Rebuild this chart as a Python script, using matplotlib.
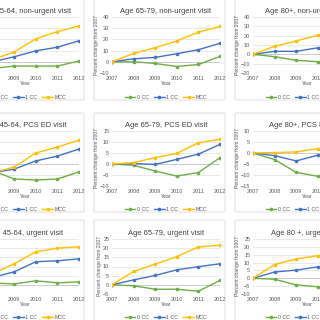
import matplotlib
matplotlib.use('Agg')
import matplotlib.pyplot as plt
from matplotlib.patches import FancyBboxPatch

plt.rcParams['font.family'] = ['Liberation Sans', 'DejaVu Sans']

YEARS = [2007, 2008, 2009, 2010, 2011, 2012]

# row 1: non-urgent visit
nu_young_cc0 = [0, -6, -3.8, -3.8, -3.8, 0.7]
nu_young_cc1 = [0, 0, 4.5, 9.8, 13, 18.8]
nu_young_mcc = [0, 2, 8.8, 20.5, 27, 32]
nu_mid_cc0 = [0, 0, -1.5, -4.2, -2.4, 4.8]
nu_mid_cc1 = [0, 2.7, 3.9, 7.2, 10.8, 16.5]
nu_mid_mcc = [0, 7.5, 12.6, 18.6, 26.5, 31.6]
nu_old_cc0 = [0, -2.5, -6.4, -7.9, -8.5, -5]
nu_old_cc1 = [0, 3.2, 3.2, 7, 10, 14]
nu_old_mcc = [0, 8.6, 14.3, 20.4, 25, 30]

# row 2: PCS ED visit
pcs_young_cc0 = [0, -3, -6.8, -7.3, -6.8, -3.6]
pcs_young_cc1 = [0, -4, -2.3, 1.4, 3.6, 6.8]
pcs_young_mcc = [0, -4, -1.4, 5, 7.7, 10.9]
pcs_mid_cc0 = [0, -0.6, -3.2, -5.5, -3.9, 2.9]
pcs_mid_cc1 = [0, 0.2, -0.2, 2.1, 4.5, 8.9]
pcs_mid_mcc = [0, 0.6, 2.9, 4.8, 9.7, 11.2]
pcs_old_cc0 = [0, -3, -8.8, -10.6, -11, -9]
pcs_old_cc1 = [0, -1.2, -3.6, -1, 1, 3]
pcs_old_mcc = [0, 0.2, 0.5, 2, 3, 5]

# row 3: urgent visit
urg_young_cc0 = [0, 1, 0.5, 2.2, 1.1, 1.6]
urg_young_cc1 = [0, 4, 7.1, 12.6, 13.1, 14.2]
urg_young_mcc = [0, 6, 11.5, 18, 20, 20.8]
urg_mid_cc0 = [0, -0.5, -2.4, -2.4, -3.5, 2.4]
urg_mid_cc1 = [0, 2.7, 5.1, 8.2, 9.9, 11.5]
urg_mid_mcc = [0, 7.3, 11.3, 15.4, 20.7, 21.6]
urg_old_cc0 = [0, -0.6, -4.2, -5.4, -5, -3]
urg_old_cc1 = [0, 4, 5.2, 7.3, 8, 9]
urg_old_mcc = [0, 8.7, 12.3, 14.4, 15, 16]

TITLES = [
    ['Age 45-64, non-urgent visit', 'Age 65-79, non-urgent visit', 'Age 80+, non-urgent visit'],
    ['Age 45-64, PCS ED visit', 'Age 65-79, PCS ED visit', 'Age 80+, PCS ED visit'],
    ['Age 45-64, urgent visit', 'Age 65-79, urgent visit', 'Age 80 +, urgent visit'],
]
SERIES = [
    [(nu_young_cc0, nu_young_cc1, nu_young_mcc), (nu_mid_cc0, nu_mid_cc1, nu_mid_mcc),
     (nu_old_cc0, nu_old_cc1, nu_old_mcc)],
    [(pcs_young_cc0, pcs_young_cc1, pcs_young_mcc), (pcs_mid_cc0, pcs_mid_cc1, pcs_mid_mcc),
     (pcs_old_cc0, pcs_old_cc1, pcs_old_mcc)],
    [(urg_young_cc0, urg_young_cc1, urg_young_mcc), (urg_mid_cc0, urg_mid_cc1, urg_mid_mcc),
     (urg_old_cc0, urg_old_cc1, urg_old_mcc)],
]
YLIMS = [
    [(-10, 40, 10), (-10, 40, 10), (-20, 40, 10)],
    [(-10, 15, 5), (-10, 15, 5), (-15, 10, 5)],
    [(-5, 25, 5), (-5, 25, 5), (-10, 25, 5)],
]
LABELS = ['0 CC', '1 CC', 'MCC']
COLORS = ['#70AD47', '#4472C4', '#FFC000']

W = H = 320
# pixel layout (x of 2007 per column, top/bottom of plot area per row)
COL_X0 = [-29, 112, 253]
PLOT_W = 108
ROW_Y = [(17, 73), (131, 186), (239, 294)]
FRAME_Y = [(-4, 100), (113, 212), (220, 330)]

fig = plt.figure(figsize=(3.2, 3.2), dpi=100, facecolor='white')

for r in range(3):
    for c in range(3):
        x0 = COL_X0[c]
        top, bot = ROW_Y[r]
        # chart area frame
        ft, fb = FRAME_Y[r]
        fig.patches.append(FancyBboxPatch(((x0 - 18) / W, 1 - fb / H), 131 / W, (fb - ft) / H,
                                          boxstyle='round,pad=0,rounding_size=0.005',
                                          transform=fig.transFigure, facecolor='white',
                                          edgecolor='#D9D9D9', linewidth=0.6, zorder=-5))
        ax = fig.add_axes([x0 / W, 1 - bot / H, PLOT_W / W, (bot - top) / H])
        ax.set_facecolor('none')
        lo, hi, step = YLIMS[r][c]
        for vals, lab, col in zip(SERIES[r][c], LABELS, COLORS):
            ax.plot(YEARS, vals, color=col, linewidth=1.0, marker='o', markersize=1.6,
                    label=lab, zorder=3)
        ax.set_xlim(2007, 2012)
        ax.set_ylim(lo, hi)
        ax.set_yticks(range(lo, hi + 1, step))
        ax.set_xticks(YEARS)
        ax.grid(axis='y', color='#D9D9D9', linewidth=0.4)
        ax.axhline(0, color='#BFBFBF', linewidth=0.5, zorder=2)
        for s in ax.spines.values():
            s.set_visible(False)
        ax.tick_params(length=0, labelsize=4.0, colors='#595959', pad=2)
        ax.set_title(TITLES[r][c], fontsize=5.4, color='#404040', pad=3)
        ax.set_xlabel('Year', fontsize=3.8, color='#595959', labelpad=0)
        ax.set_ylabel('Percent change from 2007', fontsize=3.6, color='#595959', labelpad=0.5)
        ax.legend(loc='upper center', bbox_to_anchor=(0.5, -0.3), ncol=3, frameon=False,
                  fontsize=3.8, handlelength=2.0, columnspacing=1.0, handletextpad=0.3,
                  labelcolor='#595959')

fig.savefig('out.png', dpi=100, facecolor='white')
